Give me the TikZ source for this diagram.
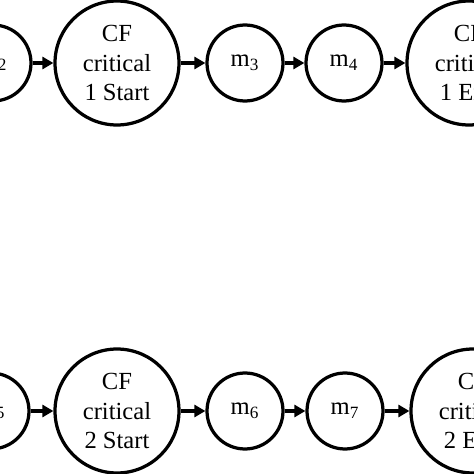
\documentclass[tikz,border=0pt]{standalone}
\usepackage{fontspec}
\setmainfont{Liberation Serif}
\usetikzlibrary{arrows.meta}
\begin{document}
\begin{tikzpicture}[x=0.02cm,y=0.02cm,
    state/.style={circle,draw,line width=0.065cm,minimum size=1.52cm,inner sep=0pt,
      font=\fontsize{14}{17}\selectfont},
    cfstate/.style={state,minimum size=2.48cm,align=center},
    flow/.style={line width=0.065cm,-{Triangle[length=0.22cm,width=0.24cm]}}]
                \useasboundingbox (0,0) rectangle (474,474);
                \clip (0,0) rectangle (474,474);
                \node [state] (m2) at (-7,411) {m\textsubscript{2}};
                \node [cfstate] (cf1s) at (117,411) {CF\\critical\\1 Start};
                \node [state] (m3) at (245,411) {m\textsubscript{3}};
                \node [state] (m4) at (344,411) {m\textsubscript{4}};
                \node [cfstate] (cf1e) at (469,411) {CF\\critical\\1 End};
                \node [state] (m5) at (-9,63) {m\textsubscript{5}};
                \node [cfstate] (cf2s) at (117,63) {CF\\critical\\2 Start};
                \node [state] (m6) at (245,63) {m\textsubscript{6}};
                \node [state] (m7) at (345,63) {m\textsubscript{7}};
                \node [cfstate] (cf2e) at (473,63) {CF\\critical\\2 End};
                \coordinate (in1s) at (117,500);
                \coordinate (in1e) at (469,500);
                \coordinate (out2s) at (117,-30);
                \coordinate (out2e) at (473,-30);
                \draw [flow] (m2) -- (cf1s);
                \draw [flow] (cf1s) -- (m3);
                \draw [flow] (m3) -- (m4);
                \draw [flow] (m4) -- (cf1e);
                \draw [flow] (m5) -- (cf2s);
                \draw [flow] (cf2s) -- (m6);
                \draw [flow] (m6) -- (m7);
                \draw [flow] (m7) -- (cf2e);
                \draw [flow] (in1s) -- (cf1s);
                \draw [flow] (in1e) -- (cf1e);
                \draw [flow] (cf2s) -- (out2s);
                \draw [flow] (cf2e) -- (out2e);
\end{tikzpicture}
\end{document}
